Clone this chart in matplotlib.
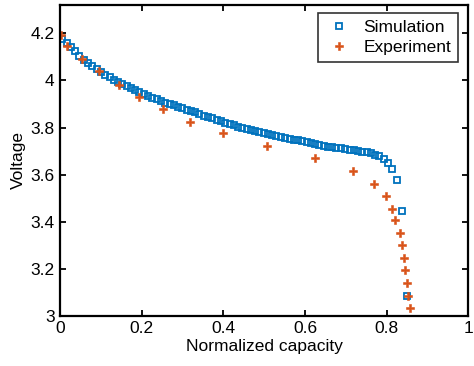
import matplotlib.pyplot as plt

plt.rcParams['font.family'] = ['Liberation Sans', 'DejaVu Sans']

# simulation curve
sim_x = [0.005, 0.016, 0.026, 0.037, 0.047, 0.058, 0.068, 0.079, 0.089, 0.100,
         0.110, 0.121, 0.131, 0.142, 0.152, 0.163, 0.173, 0.184, 0.194, 0.205,
         0.215, 0.226, 0.236, 0.247, 0.257, 0.268, 0.278, 0.289, 0.299, 0.310,
         0.320, 0.331, 0.341, 0.352, 0.362, 0.373, 0.383, 0.394, 0.404, 0.415,
         0.425, 0.436, 0.446, 0.457, 0.467, 0.478, 0.488, 0.499, 0.509, 0.520,
         0.530, 0.541, 0.551, 0.562, 0.572, 0.583, 0.593, 0.604, 0.614, 0.625,
         0.635, 0.646, 0.656, 0.667, 0.677, 0.688, 0.698, 0.709, 0.719, 0.730,
         0.740, 0.751, 0.761, 0.772, 0.782, 0.793, 0.803, 0.814, 0.826, 0.838,
         0.849]
sim_v = [4.175, 4.157, 4.140, 4.123, 4.105, 4.088, 4.073, 4.060, 4.048, 4.036,
         4.025, 4.014, 4.004, 3.994, 3.984, 3.975, 3.966, 3.958, 3.950, 3.942,
         3.934, 3.927, 3.920, 3.913, 3.906, 3.900, 3.894, 3.888, 3.882, 3.876,
         3.870, 3.864, 3.857, 3.851, 3.845, 3.839, 3.833, 3.827, 3.821, 3.815,
         3.809, 3.803, 3.797, 3.793, 3.789, 3.785, 3.781, 3.777, 3.773, 3.769,
         3.765, 3.761, 3.757, 3.753, 3.749, 3.745, 3.741, 3.737, 3.733, 3.729,
         3.725, 3.722, 3.719, 3.716, 3.713, 3.711, 3.709, 3.706, 3.703, 3.700,
         3.697, 3.694, 3.690, 3.685, 3.677, 3.665, 3.648, 3.622, 3.578, 3.447,
         3.085]

# experiment points
exp_x = [0.002, 0.017, 0.053, 0.095, 0.144, 0.194, 0.252, 0.317, 0.400, 0.506,
         0.624, 0.717, 0.770, 0.798, 0.814, 0.821, 0.832, 0.837, 0.842, 0.846,
         0.850, 0.853, 0.857]
exp_v = [4.195, 4.145, 4.090, 4.040, 3.980, 3.930, 3.880, 3.825, 3.777, 3.720,
         3.670, 3.614, 3.562, 3.509, 3.453, 3.406, 3.351, 3.299, 3.246, 3.194,
         3.139, 3.085, 3.033]

fig = plt.figure(figsize=(4.74, 3.66), dpi=100)
ax = fig.add_axes([0.127, 0.137, 0.861, 0.849])

ax.plot(sim_x, sim_v, linestyle='none', marker='s', markersize=4.2,
        markerfacecolor='none', markeredgecolor='#0072BD', markeredgewidth=1.3,
        label='Simulation')
ax.plot(exp_x, exp_v, linestyle='none', marker='P', markersize=6,
        color='#D95319', markeredgewidth=0.4, markeredgecolor='#D95319',
        label='Experiment')

ax.set_xlim(0, 1)
ax.set_ylim(3, 4.32)
ax.set_xticks([0, 0.2, 0.4, 0.6, 0.8, 1])
ax.set_xticklabels(['0', '0.2', '0.4', '0.6', '0.8', '1'])
ax.set_yticks([3, 3.2, 3.4, 3.6, 3.8, 4, 4.2])
ax.set_yticklabels(['3', '3.2', '3.4', '3.6', '3.8', '4', '4.2'])
ax.tick_params(direction='in', length=4, width=1.3, top=True, right=True,
               labelsize=12.5, colors='black', pad=4)
for s in ax.spines.values():
    s.set_linewidth(1.6)

ax.set_xlabel('Normalized capacity', fontsize=12.5, labelpad=2)
ax.set_ylabel('Voltage', fontsize=12.5, labelpad=3)

leg = ax.legend(loc='upper right', bbox_to_anchor=(0.975, 0.975), fontsize=12.5,
                frameon=True, fancybox=False, edgecolor='black',
                handlelength=1.6, handletextpad=0.6, borderpad=0.4,
                labelspacing=0.3, borderaxespad=0)
leg.get_frame().set_linewidth(1.2)

fig.savefig('out.png', dpi=100)
